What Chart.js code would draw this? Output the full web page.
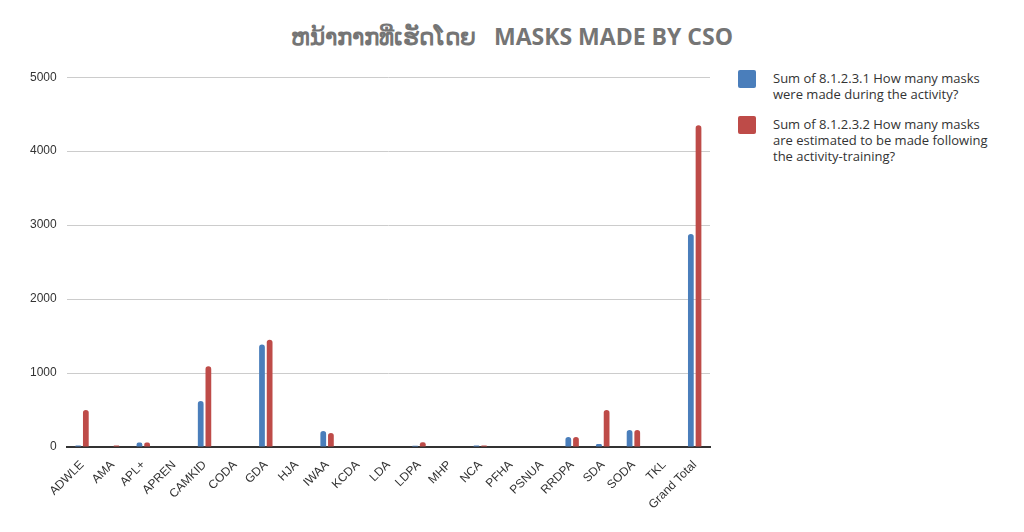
<!DOCTYPE html>
<html>
<head>
<meta charset="utf-8">
<script src="https://cdn.jsdelivr.net/npm/chart.js@4"></script>
<style>
  body { margin: 0; background: #fff; font-family: "Open Sans", "Noto Sans", sans-serif; }
  #wrap { position: relative; width: 1024px; height: 532px; }
  #title { position: absolute; top: 20px; left: 0; width: 1024px; text-align: center; font-size: 23px; font-weight: bold; color: #757575; }
  #chartBox { position: absolute; left: 20px; top: 60px; width: 700px; height: 455px; }
  #legend { position: absolute; left: 738px; top: 70px; width: 250px; font-size: 13px; color: #333; }
  .item { display: flex; margin-bottom: 14px; line-height: 16px; }
  .sw { width: 18px; height: 18px; border-radius: 2px; margin-right: 17px; flex: none; }
</style>
</head>
<body>
<div id="wrap">
  <div id="title">ຫນ້າກາກທີ່ເຮັດໂດຍ&nbsp;&nbsp;&nbsp;MASKS MADE BY CSO</div>
  <div id="chartBox"><canvas id="grafico"></canvas></div>
  <div id="legend"></div>
</div>
<script>
const categorias = ["ADWLE", "AMA", "APL+", "APREN", "CAMKID", "CODA", "GDA", "HJA", "IWAA", "KCDA", "LDA", "LDPA", "MHP", "NCA", "PFHA", "PSNUA", "RRDPA", "SDA", "SODA", "TKL", "Grand Total"];
const feitas = [20, 0, 60, 0, 620, 0, 1385, 0, 215, 0, 0, 15, 0, 20, 0, 0, 135, 40, 230, 0, 2880];
const estimadas = [500, 20, 60, 0, 1090, 0, 1450, 0, 190, 0, 0, 65, 0, 20, 0, 0, 135, 500, 230, 0, 4350];
const nomes = [
    "Sum of 8.1.2.3.1 How many masks were made during the activity?",
    "Sum of 8.1.2.3.2 How many masks are estimated to be made following the activity-training?"
];
const cores = ["#4a7ebb", "#be4b48"];

const legenda = document.getElementById("legend");
nomes.forEach((n, i) => {
    const d = document.createElement("div");
    d.className = "item";
    d.innerHTML = `<span class="sw" style="background:${cores[i]}"></span><span>${n}</span>`;
    legenda.appendChild(d);
});

new Chart(document.getElementById("grafico"), {
    type: "bar",
    data: {
        labels: categorias,
        datasets: [
            { label: nomes[0], data: feitas, backgroundColor: cores[0], borderRadius: 3, barPercentage: 0.75, categoryPercentage: 0.5 },
            { label: nomes[1], data: estimadas, backgroundColor: cores[1], borderRadius: 3, barPercentage: 0.75, categoryPercentage: 0.5 }
        ]
    },
    options: {
        responsive: true,
        maintainAspectRatio: false,
        animation: false,
        layout: { padding: { top: 8, right: 10 } },
        plugins: { legend: { display: false }, tooltip: { enabled: false } },
        scales: {
            x: {
                grid: { display: false },
                border: { color: "#333", width: 2 },
                ticks: { color: "#333", font: { size: 12 }, maxRotation: 45, minRotation: 45, autoSkip: false }
            },
            y: {
                min: 0, max: 5000,
                ticks: { stepSize: 1000, color: "#333", font: { size: 12 }, padding: 10, callback: v => String(v) },
                grid: { color: "#cccccc", drawTicks: false },
                border: { display: false }
            }
        }
    }
});
</script>
</body>
</html>
